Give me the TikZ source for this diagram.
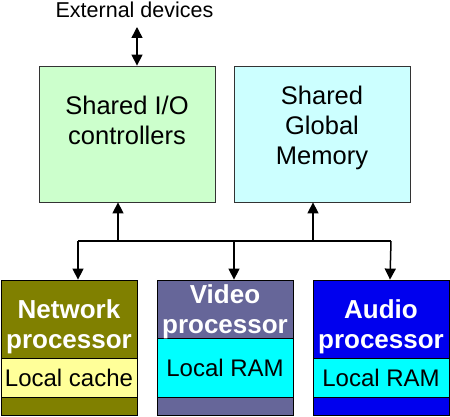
\documentclass[tikz,border=0pt]{standalone}
\usepackage{fontspec}
\setmainfont{Liberation Sans}
\usetikzlibrary{arrows.meta}

\definecolor{iogreen}{HTML}{CCFFCC}
\definecolor{memcyan}{HTML}{CCFFFF}
\definecolor{netolive}{HTML}{808000}
\definecolor{vidgray}{HTML}{666699}
\definecolor{audblue}{HTML}{0000EE}
\definecolor{ramcyan}{HTML}{00FFFF}
\definecolor{cacheyellow}{HTML}{FFFF99}

\tikzset{
  shared/.style={draw=black!80, line width=0.8pt, minimum width=176pt, minimum height=136pt, inner sep=0pt},
  proc/.style={draw=black, line width=0.8pt, minimum width=136pt, minimum height=135pt, inner sep=0pt},
  band/.style={draw=black, line width=0.8pt, minimum width=136pt, inner sep=0pt, font=\fontsize{24}{28}\selectfont},
  boxtext/.style={align=center, font=\fontsize{25.5}{30}\selectfont},
  proctitle/.style={align=center, text=white, font=\fontsize{26}{30}\selectfont\bfseries},
  arr/.style={line width=1.5pt, -{Triangle[length=11pt,width=11pt]}},
  dblarr/.style={line width=1.5pt, {Triangle[length=11pt,width=11pt]}-{Triangle[length=11pt,width=11pt]}}
}

\begin{document}
\begin{tikzpicture}[x=1pt, y=-1pt]
\useasboundingbox (0,0) rectangle (450,417);

% shared blocks
\node[shared, fill=iogreen] (io)  at (127,134) {};
\node[shared, fill=memcyan] (mem) at (322,134) {};
\node[boxtext] (iotext)  at (127,120)   {Shared I/O\\controllers};
\node[boxtext] (memtext) at (322,127.5) {Shared\\Global\\Memory};

\node[font=\fontsize{21.5}{24}\selectfont] (ext) at (134.5,10) {External devices};

% processors
\node[proc, fill=netolive] (net) at (69,347.5)  {};
\node[proc, fill=vidgray]  (vid) at (225,347.5) {};
\node[proc, fill=audblue]  (aud) at (381,347.5) {};

\node[band, fill=cacheyellow, minimum height=39pt] (netram) at (69,377.5)  {Local cache};
\node[band, fill=ramcyan,     minimum height=59pt] (vidram) at (225,368)   {Local RAM};
\node[band, fill=ramcyan,     minimum height=39pt] (audram) at (381,377.5) {Local RAM};

\node[proctitle] (nettitle) at (69,327)  {Network\\processor};
\node[proctitle] (vidtitle) at (225,312) {Video\\processor};
\node[proctitle] (audtitle) at (381,327) {Audio\\processor};

% bus
\coordinate (busL) at (78,241);
\coordinate (busR) at (391,241);
\draw[line width=1.5pt] (busL) -- (busR);

\draw[dblarr] ([xshift=10pt]io.north) -- ([xshift=10pt]io.north |- 0,27);
\draw[arr] ([xshift=-9pt]io.south |- busL)  -- ([xshift=-9pt]io.south);
\draw[arr] ([xshift=-9pt]mem.south |- busL) -- ([xshift=-9pt]mem.south);
\draw[arr] (busL) -- ([xshift=9pt]net.north);
\draw[arr] ([xshift=9pt]vid.north |- busL) -- ([xshift=9pt]vid.north);
\draw[arr] (busR) -- ([xshift=9pt]aud.north);
\end{tikzpicture}
\end{document}
